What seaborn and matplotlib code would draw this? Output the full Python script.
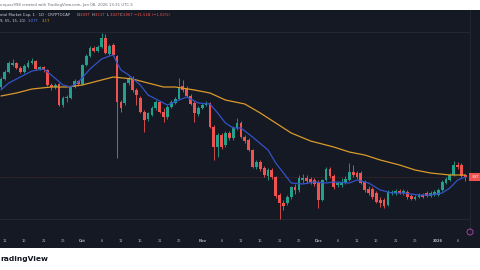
import numpy as np
import pandas as pd
import matplotlib
matplotlib.use("Agg")
import matplotlib.pyplot as plt
import seaborn as sns
from matplotlib.patches import Rectangle, Ellipse

# ---------------- data (values in billions USD) ----------------
start_date = "2025-09-10"

opens = [3960, 4040, 4110, 4180, 4200, 4150, 4110, 4160, 4200, 4220,
         4140, 4160, 4130, 3980, 3960, 3990, 3780, 3850, 3850, 3960,
         4020, 3990, 4180, 4270, 4350, 4320, 4360, 4450, 4290, 4380,
         4270, 3810, 3800, 4000, 4050, 3930, 3850, 3710, 3640, 3680,
         3750, 3810, 3710, 3660, 3760, 3800, 3840, 3970, 3950, 3870,
         3800, 3690, 3750, 3780, 3800, 3560, 3360, 3480, 3380, 3500,
         3450, 3550, 3600, 3460, 3430, 3330, 3160, 3210, 3150, 3070,
         3130, 3060, 2880, 2800, 2800, 2860, 2960, 2930, 3030, 3050,
         3040, 3030, 3010, 2830, 3030, 3140, 3070, 2980, 2980, 3000,
         3030, 3110, 3100, 3100, 3010, 2940, 2940, 2900, 2830, 2830,
         2780, 2900, 2900, 2920, 2900, 2910, 2870, 2840, 2860, 2880,
         2900, 2870, 2880, 2880, 2930, 3000, 3030, 3080, 3180, 3180,
         3080]

highs = [4060, 4130, 4220, 4240, 4210, 4170, 4190, 4230, 4250, 4230,
         4170, 4170, 4140, 4000, 4000, 4000, 3870, 3880, 3970, 4040,
         4030, 4190, 4290, 4370, 4370, 4380, 4500, 4490, 4390, 4400,
         4280, 3830, 4010, 4070, 4070, 3950, 3870, 3730, 3710, 3770,
         3830, 3820, 3750, 3780, 3830, 3860, 4050, 4030, 3970, 3890,
         3820, 3770, 3800, 3820, 3810, 3580, 3500, 3500, 3520, 3520,
         3570, 3650, 3620, 3480, 3450, 3340, 3230, 3230, 3170, 3150,
         3150, 3070, 2900, 2830, 2880, 2970, 2990, 3080, 3090, 3080,
         3060, 3050, 3030, 3040, 3160, 3160, 3090, 3020, 3050, 3070,
         3200, 3180, 3120, 3120, 3030, 2970, 2960, 2920, 2860, 2850,
         2930, 2930, 2940, 2940, 2940, 2930, 2890, 2880, 2900, 2900,
         2920, 2920, 2930, 2950, 3030, 3060, 3100, 3220, 3210, 3200,
         3090]

lows = [3940, 4030, 4100, 4170, 4140, 4100, 4100, 4150, 4190, 4130,
        4130, 4110, 3970, 3930, 3940, 3770, 3760, 3810, 3840, 3950,
        3970, 3980, 4170, 4260, 4310, 4310, 4350, 4290, 4280, 4270,
        3250, 3710, 3780, 3980, 3910, 3780, 3700, 3510, 3620, 3670,
        3730, 3700, 3610, 3640, 3750, 3790, 3830, 3910, 3860, 3780,
        3610, 3670, 3740, 3770, 3550, 3230, 3260, 3340, 3360, 3430,
        3430, 3530, 3450, 3400, 3320, 3150, 3140, 3120, 3060, 3030,
        3040, 2850, 2640, 2730, 2780, 2840, 2890, 2910, 3000, 3000,
        2990, 2970, 2750, 2820, 3020, 3050, 2940, 2960, 2960, 2990,
        3020, 3060, 3040, 2990, 2910, 2880, 2840, 2800, 2760, 2750,
        2770, 2880, 2880, 2890, 2880, 2840, 2830, 2830, 2850, 2850,
        2860, 2860, 2870, 2870, 2920, 2990, 3020, 3070, 3140, 3060,
        3020]

closes = [4040, 4110, 4200, 4200, 4150, 4110, 4170, 4200, 4220, 4140,
          4160, 4130, 3980, 3960, 3980, 3780, 3850, 3860, 3960, 4020,
          3990, 4180, 4270, 4350, 4320, 4360, 4450, 4300, 4370, 4280,
          3810, 3750, 4000, 4050, 3930, 3880, 3710, 3630, 3700, 3750,
          3810, 3710, 3660, 3760, 3810, 3840, 3960, 3930, 3870, 3790,
          3700, 3750, 3780, 3800, 3560, 3360, 3480, 3360, 3500, 3450,
          3550, 3600, 3460, 3420, 3330, 3160, 3210, 3140, 3080, 3130,
          3060, 2870, 2800, 2770, 2860, 2960, 2930, 3050, 3050, 3020,
          3010, 2990, 2830, 3030, 3140, 3070, 2960, 3000, 3010, 3040,
          3110, 3080, 3060, 3000, 2930, 2900, 2860, 2810, 2800, 2770,
          2910, 2910, 2920, 2900, 2920, 2860, 2840, 2860, 2880, 2860,
          2870, 2900, 2910, 2930, 3010, 3040, 3080, 3180, 3160, 3070,
          3060]

# EMA lines (candle index, value)
ema_fast_idx = [0, 2, 5, 8, 11, 13, 16, 18, 20, 23,
                26, 28, 29, 30, 31, 33, 36, 38, 41, 43,
                46, 48, 51, 54, 56, 58, 60, 62, 65, 69,
                71, 74, 75, 78, 81, 84, 86, 90, 92, 95,
                98, 101, 104, 108, 111, 114, 116, 118, 120]
ema_fast = [3930, 4000, 4060, 4120, 4140, 4080, 3980, 3960, 4010, 4140,
            4240, 4270, 4280, 4200, 4130, 4080, 3980, 3880, 3820, 3780,
            3830, 3860, 3800, 3790, 3700, 3600, 3550, 3550, 3460, 3330,
            3200, 3050, 3000, 2990, 3010, 3000, 3010, 3000, 3030, 3000,
            2930, 2900, 2900, 2880, 2880, 2900, 2950, 3030, 3060]

ema_slow_idx = [0, 4, 8, 13, 17, 21, 26, 29, 34, 38, 42, 45, 50, 54, 58,
                63, 67, 71, 75, 80, 86, 90, 94, 98, 103, 107, 111, 116, 120]
ema_slow = [3870, 3900, 3940, 3960, 3960, 3980, 4030, 4060, 4040, 4000,
            3960, 3960, 3930, 3900, 3830, 3790, 3700, 3600, 3500, 3420,
            3360, 3310, 3280, 3230, 3180, 3130, 3100, 3080, 3080]

tick_dates = ["2025-09-11", "2025-09-16", "2025-09-21", "2025-09-26", "2025-10-01",
              "2025-10-06", "2025-10-11", "2025-10-16", "2025-10-21", "2025-10-26",
              "2025-11-01", "2025-11-06", "2025-11-11", "2025-11-16", "2025-11-21",
              "2025-11-26", "2025-12-01", "2025-12-06", "2025-12-11", "2025-12-16",
              "2025-12-21", "2025-12-26", "2026-01-01", "2026-01-06"]
tick_labels = ["11", "16", "21", "26", "Oct", "6", "11", "16", "21", "26",
               "Nov", "6", "11", "16", "21", "26", "Dec", "6", "11", "16",
               "21", "26", "2026", "6"]
bold_labels = ["Oct", "Nov", "Dec", "2026"]

grid_levels = [4510, 2640]

header_text = "urquez998 created with TradingView.com, Jan 08, 2026 13:31 UTC-5"
legend_title = "otal Market Cap, 1 \u00b7 1D \u00b7 CRYPTOCAP"
legend_ohlc = [("O", "3.09T"), ("H", "3.11T"), ("L", "3.02T"), ("C", "3.06T")]
legend_change = "\u221231.51B (\u22121.02%)"
ema_params = "9, 55, 15, 21)"
ema_fast_label = "3.07T"
ema_slow_label = "3.1T"
price_label = "3.06T"
footer_text = "radingView"

# ---------------- style ----------------
BG = "#151924"
GREEN = "#22a08c"
RED = "#f0524f"
BLUE = "#3352c8"
ORANGE = "#d99a2b"
TXT = "#b2b5be"

sns.set_theme(style="dark", rc={"axes.facecolor": BG, "figure.facecolor": "white"})
plt.rcParams["font.family"] = ["DejaVu Sans"]

df = pd.DataFrame({"date": pd.date_range(start_date, periods=len(opens)),
                   "open": opens, "high": highs, "low": lows, "close": closes})
df["pos"] = np.arange(len(df))
up = df["close"] >= df["open"]
colors = np.where(up, GREEN, RED)

W, H = 480, 270
fig = plt.figure(figsize=(4.8, 2.7), dpi=100)
fig.patch.set_facecolor("white")
fig.patches.append(Rectangle((0, 22 / H), 1, 238 / H, transform=fig.transFigure,
                             facecolor=BG, edgecolor="none", zorder=-10))

ax = fig.add_axes([0, 37 / H, 470 / W, 223 / H])
ax.set_facecolor(BG)

for lvl in grid_levels:
    ax.axhline(lvl, color="#262a36", lw=0.6, zorder=0)
ax.axhline(closes[-1], color=RED, alpha=0.35, lw=0.5, ls=(0, (1, 1)), zorder=1)

ax.vlines(df["pos"], df["low"], df["high"], colors=colors, lw=0.6, zorder=2)
body_bottom = df[["open", "close"]].min(axis=1)
body_height = (df["close"] - df["open"]).abs().clip(lower=8)
ax.bar(df["pos"], body_height, bottom=body_bottom, width=0.72, color=colors,
       linewidth=0, zorder=3)

sns.lineplot(x=ema_slow_idx, y=ema_slow, ax=ax, color=ORANGE, lw=0.9, zorder=4)
sns.lineplot(x=ema_fast_idx, y=ema_fast, ax=ax, color=BLUE, lw=0.9, zorder=5)

ax.set_xlim(-0.26, 121.2)
ax.set_ylim(2500, 4730)
pos_map = {d: p for d, p in zip(df["date"].dt.strftime("%Y-%m-%d"), df["pos"])}
ax.set_xticks([pos_map[d] for d in tick_dates])
ax.set_xticklabels(tick_labels)
ax.tick_params(axis="x", length=0, pad=4.6, labelsize=2.6, labelcolor=TXT)
for t in ax.get_xticklabels():
    if t.get_text() in bold_labels:
        t.set_fontweight("bold")
ax.set_yticks([])
ax.set_xlabel("")
ax.set_ylabel("")
for s in ["top", "left", "bottom"]:
    ax.spines[s].set_visible(False)
ax.spines["right"].set_color("#2a2e39")
ax.spines["right"].set_linewidth(0.5)
ax.grid(False)

# price label on the right axis
ax.text(1.003, closes[-1], price_label, transform=ax.get_yaxis_transform(),
        color="white", fontsize=1.9, va="center", ha="left", clip_on=False,
        bbox=dict(boxstyle="square,pad=0.9", fc=RED, ec="none"), zorder=6)

# header / legend texts
fig.text(0.0, 1 - 5 / H, header_text, fontsize=2.8, color="#6a6d78", va="center", ha="left")
fig.text(0.0, 1 - 15 / H, legend_title, fontsize=2.7, color="#d1d4dc", va="center", ha="left")
xs = [77, 92, 107, 120]
for (k, v), xp in zip(legend_ohlc, xs):
    fig.text(xp / W, 1 - 15 / H, k, fontsize=2.7, color="#d1d4dc", va="center", ha="left")
    fig.text((xp + 2.6) / W, 1 - 15 / H, v, fontsize=2.7, color=RED, va="center", ha="left")
fig.text(134 / W, 1 - 15 / H, legend_change, fontsize=2.7, color=RED, va="center", ha="left")
fig.text(0.0, 1 - 21 / H, ema_params, fontsize=2.7, color="#d1d4dc", va="center", ha="left")
fig.text(28 / W, 1 - 21 / H, ema_fast_label, fontsize=2.7, color="#5b7cfa", va="center", ha="left")
fig.text(42 / W, 1 - 21 / H, ema_slow_label, fontsize=2.7, color=ORANGE, va="center", ha="left")

# footer logo text
fig.text(0.5 / W, 1 - 259 / H, footer_text, fontsize=5.4, fontweight="bold",
         color="#131722", va="center", ha="left")

# small icon at bottom right
fig.patches.append(Ellipse((470 / W, 1 - 232 / H), 6 / W, 6 / H, transform=fig.transFigure,
                           facecolor="none", edgecolor="#b44bb0", lw=0.6))

fig.savefig("out.png", dpi=100, facecolor="white")
